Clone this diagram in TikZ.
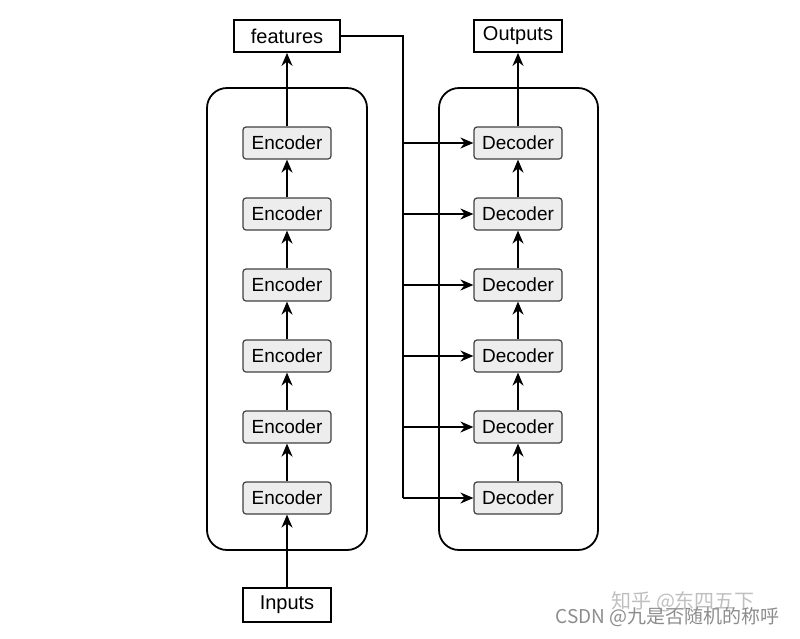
\documentclass[tikz,border=0pt]{standalone}
\usepackage{fontspec}
\setmainfont{Liberation Sans}
\newfontfamily\cjk{Noto Sans CJK SC}
\usetikzlibrary{arrows.meta}
\begin{document}
\begin{tikzpicture}[x=1pt,y=-1pt,
  blk/.style={draw=black!75,fill=black!7,rounded corners=3pt,line width=1.2pt,minimum width=88pt,minimum height=32pt,inner sep=0pt,font=\fontsize{19}{21}\selectfont},
  io/.style={draw,line width=1.8pt,minimum height=32pt,inner sep=0pt,font=\fontsize{20}{22}\selectfont},
  cont/.style={draw,line width=1.8pt,rounded corners=20pt},
  arr/.style={line width=1.8pt,-{Stealth[length=13pt,width=11pt]}}]
\useasboundingbox (0,0) rectangle (800,638);
\draw[cont] (207,88) rectangle (367,550);
\draw[cont] (439,88) rectangle (598,550);
\node[io,minimum width=106pt] (feat) at (287,36) {features};
\node[io,minimum width=88pt] (out) at (518,36) {Outputs};
\node[io,minimum width=88pt,minimum height=34pt] (inp) at (287,605) {Inputs};
\foreach \i/\y in {1/143,2/214,3/285,4/356,5/427,6/498}{
  \node[blk] (e\i) at (287,\y) {Encoder};
  \node[blk] (d\i) at (518,\y) {Decoder};
}
\foreach \a/\b in {6/5,5/4,4/3,3/2,2/1}{
  \draw[arr] (e\a) -- (e\b);
  \draw[arr] (d\a) -- (d\b);
}
\draw[arr] (inp) -- (e6);
\draw[arr] (e1) -- (feat);
\draw[arr] (d1) -- (out);
\coordinate (bt) at (403,36);
\coordinate (bb) at (403,498);
\draw[line width=1.8pt] (feat.east) -- (bt) -- (bb);
\foreach \i in {1,...,6}{
  \draw[arr] (bt |- d\i) -- (d\i.west);
}
\node[text=black!25,font=\cjk\fontsize{20}{22}\selectfont,anchor=west] (w1) at (608,602) {知乎 @东四五下};
\node[text=black!45,font=\cjk\fontsize{19}{21}\selectfont,anchor=west] (w2) at (552,617) {CSDN @九是否随机的称呼};
\end{tikzpicture}
\end{document}
